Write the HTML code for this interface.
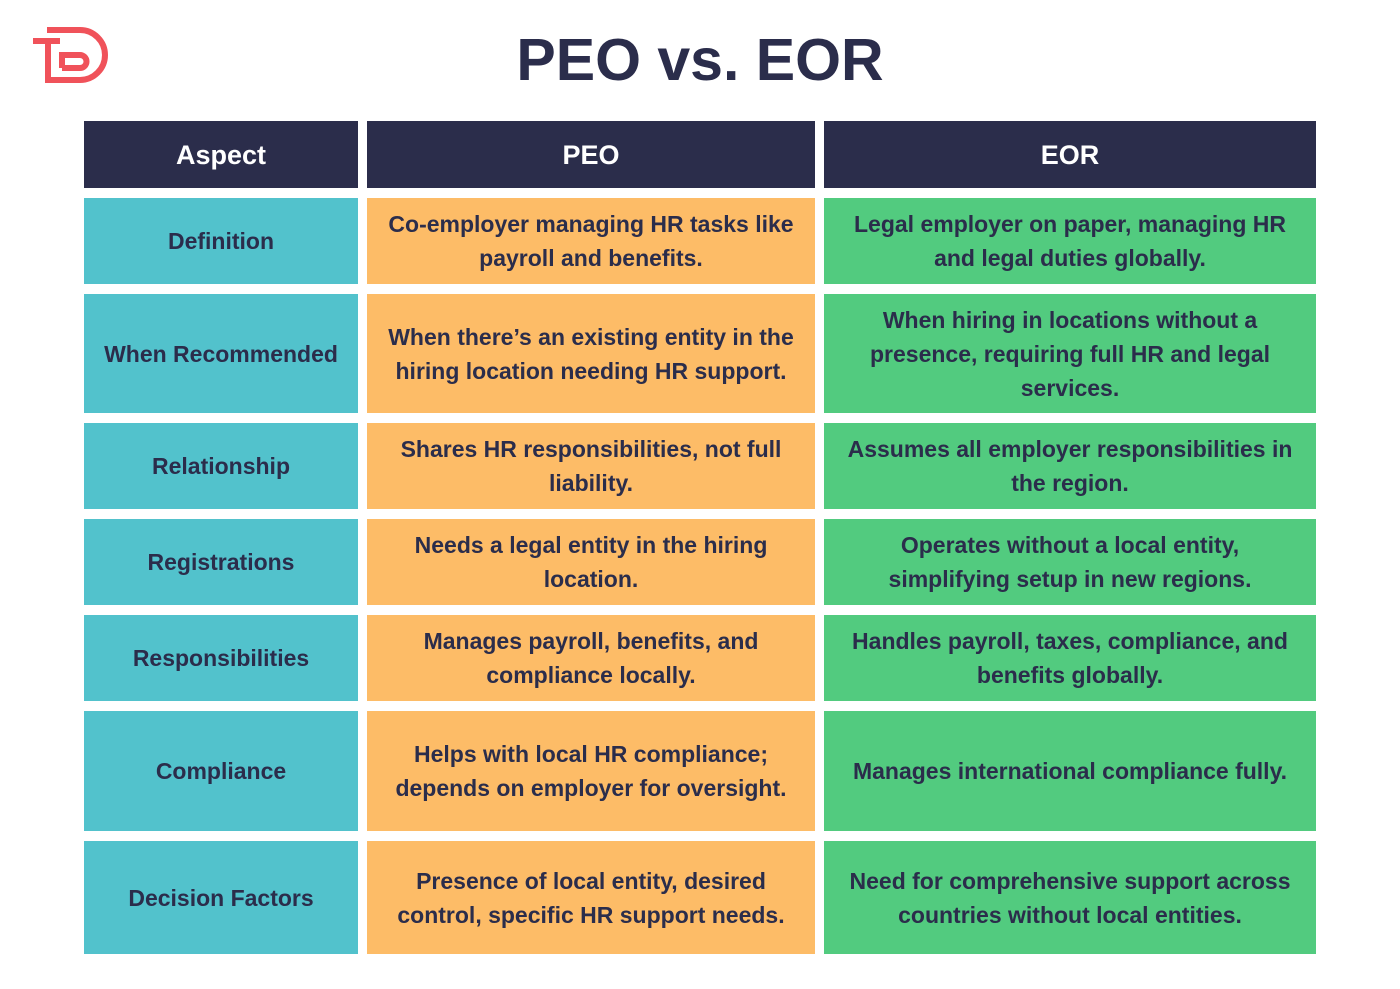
<!DOCTYPE html>
<html><head><meta charset="utf-8"><style>
body{margin:0;width:1400px;height:989px;background:#fff;font-family:"Liberation Sans",sans-serif;position:relative;overflow:hidden}
h1{position:absolute;top:26px;left:0;width:1400px;text-align:center;margin:0;font-size:59px;font-weight:bold;color:#2b2d4b}
.c{position:absolute;display:flex;align-items:center;justify-content:center;text-align:center;color:#2b2d4b;font-size:23px;line-height:34px;font-weight:bold;box-sizing:border-box;padding:0 8px}
.h{background:#2b2d4b;color:#fff;font-size:27px}
.a{background:#52c2cc}.p{background:#fdbc67}.e{background:#52cb7f}
</style></head><body>
<svg style="position:absolute;left:0;top:0" width="140" height="100">
<g fill="none" stroke="#f0525a" stroke-width="6">
<path d="M47 30 H80 A25 25 0 0 1 80 80 H48 V41"/>
<path d="M33 41 H60"/>
<path d="M62 68 V55 H80 A6.5 6.5 0 0 1 80 68 H62"/>
</g></svg>
<h1>PEO vs. EOR</h1>
<div class="c h" style="left:84px;top:121px;width:274px;height:67px">Aspect</div>
<div class="c h" style="left:367px;top:121px;width:448px;height:67px">PEO</div>
<div class="c h" style="left:824px;top:121px;width:492px;height:67px">EOR</div>

<div class="c a" style="left:84px;top:198px;width:274px;height:86px">Definition</div>
<div class="c p" style="left:367px;top:198px;width:448px;height:86px">Co-employer managing HR tasks like payroll and benefits.</div>
<div class="c e" style="left:824px;top:198px;width:492px;height:86px">Legal employer on paper, managing HR and legal duties globally.</div>

<div class="c a" style="left:84px;top:294px;width:274px;height:119px">When Recommended</div>
<div class="c p" style="left:367px;top:294px;width:448px;height:119px">When there’s an existing entity in the hiring location needing HR support.</div>
<div class="c e" style="left:824px;top:294px;width:492px;height:119px;padding:0 30px">When hiring in locations without a presence, requiring full HR and legal services.</div>

<div class="c a" style="left:84px;top:423px;width:274px;height:86px">Relationship</div>
<div class="c p" style="left:367px;top:423px;width:448px;height:86px">Shares HR responsibilities, not full liability.</div>
<div class="c e" style="left:824px;top:423px;width:492px;height:86px">Assumes all employer responsibilities in the region.</div>

<div class="c a" style="left:84px;top:519px;width:274px;height:86px">Registrations</div>
<div class="c p" style="left:367px;top:519px;width:448px;height:86px;padding:0 30px">Needs a legal entity in the hiring location.</div>
<div class="c e" style="left:824px;top:519px;width:492px;height:86px;padding:0 30px">Operates without a local entity, simplifying setup in new regions.</div>

<div class="c a" style="left:84px;top:615px;width:274px;height:86px">Responsibilities</div>
<div class="c p" style="left:367px;top:615px;width:448px;height:86px;padding:0 40px">Manages payroll, benefits, and compliance locally.</div>
<div class="c e" style="left:824px;top:615px;width:492px;height:86px">Handles payroll, taxes, compliance, and benefits globally.</div>

<div class="c a" style="left:84px;top:711px;width:274px;height:120px">Compliance</div>
<div class="c p" style="left:367px;top:711px;width:448px;height:120px">Helps with local HR compliance; depends on employer for oversight.</div>
<div class="c e" style="left:824px;top:711px;width:492px;height:120px">Manages international compliance fully.</div>

<div class="c a" style="left:84px;top:841px;width:274px;height:113px">Decision Factors</div>
<div class="c p" style="left:367px;top:841px;width:448px;height:113px">Presence of local entity, desired control, specific HR support needs.</div>
<div class="c e" style="left:824px;top:841px;width:492px;height:113px">Need for comprehensive support across countries without local entities.</div>
</body></html>
